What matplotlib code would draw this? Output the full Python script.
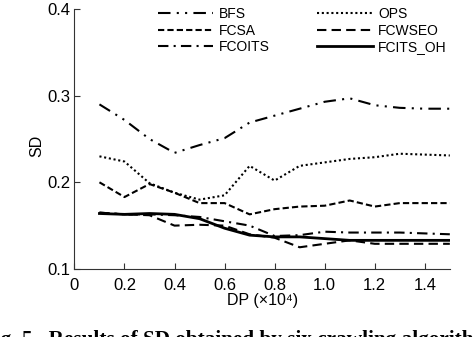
import matplotlib
matplotlib.use("Agg")
import matplotlib.pyplot as plt

plt.rcParams['font.family'] = ['Liberation Sans', 'DejaVu Sans']

dp = [0.1, 0.2, 0.3, 0.4, 0.5, 0.6, 0.7, 0.8, 0.9, 1.0, 1.1, 1.2, 1.3, 1.4, 1.5]

bfs = [0.290, 0.272, 0.250, 0.234, 0.243, 0.251, 0.269, 0.277, 0.285, 0.293, 0.297, 0.289, 0.286, 0.285, 0.285]
ops = [0.230, 0.224, 0.199, 0.188, 0.180, 0.185, 0.219, 0.202, 0.219, 0.223, 0.227, 0.229, 0.233, 0.232, 0.231]
fcsa = [0.200, 0.183, 0.198, 0.188, 0.176, 0.176, 0.163, 0.169, 0.172, 0.173, 0.179, 0.172, 0.176, 0.176, 0.176]
fcwseo = [0.165, 0.163, 0.162, 0.150, 0.151, 0.150, 0.140, 0.136, 0.125, 0.129, 0.133, 0.129, 0.129, 0.129, 0.129]
fcoits = [0.165, 0.163, 0.163, 0.162, 0.160, 0.155, 0.150, 0.138, 0.139, 0.143, 0.142, 0.142, 0.142, 0.141, 0.140]
fcits_oh = [0.164, 0.163, 0.164, 0.163, 0.158, 0.147, 0.139, 0.137, 0.137, 0.135, 0.133, 0.133, 0.133, 0.133, 0.133]

fig = plt.figure(figsize=(4.74, 3.37), dpi=100)
ax = fig.add_axes([0.157, 0.202, 0.792, 0.771])

k = 'black'
l_bfs, = ax.plot(dp, bfs, color=k, lw=1.5, dashes=[6, 3, 1, 3, 1, 3], label='BFS')
l_ops, = ax.plot(dp, ops, color=k, lw=1.5, dashes=[1, 1.3], label='OPS')
l_fcsa, = ax.plot(dp, fcsa, color=k, lw=1.5, dashes=[3, 1.5], label='FCSA')
l_fcwseo, = ax.plot(dp, fcwseo, color=k, lw=1.5, dashes=[4.5, 2.5], label='FCWSEO')
l_fcoits, = ax.plot(dp, fcoits, color=k, lw=1.5, dashes=[5, 2.5, 1, 2.5], label='FCOITS')
l_oh, = ax.plot(dp, fcits_oh, color=k, lw=2, label='FCITS_OH')

ax.set_xlim(0, 1.5)
ax.set_ylim(0.1, 0.4)
ax.set_xticks([0, 0.2, 0.4, 0.6, 0.8, 1.0, 1.2, 1.4])
ax.set_xticklabels(['0', '0.2', '0.4', '0.6', '0.8', '1.0', '1.2', '1.4'])
ax.set_yticks([0.1, 0.2, 0.3, 0.4])
ax.set_yticklabels(['0.1', '0.2', '0.3', '0.4'])
ax.tick_params(direction='in', length=4, labelsize=12, pad=3, color='#333333')
ax.tick_params(axis='x', pad=6.5)
ax.spines['top'].set_visible(False)
ax.spines['right'].set_visible(False)
for s in ['left', 'bottom']:
    ax.spines[s].set_color('#333333')

ax.set_xlabel('DP (×10⁴)', fontsize=11.5, labelpad=0)
ax.set_ylabel('SD', fontsize=11.5)
ax.yaxis.set_label_coords(-0.081, 0.473)

# column-major order so rows read BFS/OPS, FCSA/FCWSEO, FCOITS/FCITS_OH
handles = [l_bfs, l_fcsa, l_fcoits, l_ops, l_fcwseo, l_oh]
ax.legend(handles, [h.get_label() for h in handles], ncol=2, frameon=False,
          loc='upper left', bbox_to_anchor=(0.222, 1.007),
          fontsize=10, handlelength=4.0, handletextpad=0.4, columnspacing=3.4,
          labelspacing=0.18, borderpad=0, borderaxespad=0)

fig.text(-0.039, 0.022, 'Fig. 5.  Results of SD obtained by six crawling algorithms',
         family='Liberation Serif', weight='bold', fontsize=15.3, ha='left', va='top')

fig.savefig('out.png', dpi=100)
